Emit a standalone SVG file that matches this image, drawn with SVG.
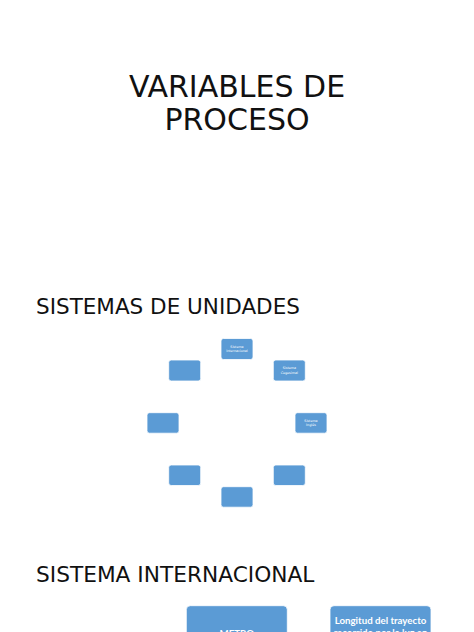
<svg xmlns="http://www.w3.org/2000/svg" width="474" height="632" viewBox="0 0 474 632">
<style>
.h{font-family:"DejaVu Sans",sans-serif;fill:#111}
.b{fill:#5b9bd5;stroke:#fff;stroke-width:0.8}
.t{font-family:"DejaVu Sans",sans-serif;font-size:3.3px;fill:#fff;text-anchor:middle}
.w{font-family:Lato,"Open Sans",sans-serif;font-weight:bold;font-size:9.7px;fill:#fff;text-anchor:middle}
</style>
<rect width="474" height="632" fill="#fff"/>
<text class="h" x="237" y="96.7" font-size="30" text-anchor="middle">VARIABLES DE</text>
<text class="h" x="237" y="130" font-size="30" text-anchor="middle">PROCESO</text>
<text class="h" x="36" y="314" font-size="21.5">SISTEMAS DE UNIDADES</text>
<g id="n1"><rect class="b" x="221" y="338.5" width="32" height="21" rx="2.5"/><text class="t" x="237" y="347.5">Sistema</text><text class="t" x="237" y="352">Internacional</text></g>
<g id="n2"><rect class="b" x="273.3" y="360" width="32" height="21" rx="2.5"/><text class="t" x="289.3" y="369">Sistema</text><text class="t" x="289.3" y="373.5">Cegesimal</text></g>
<g id="n3"><rect class="b" x="295" y="412.7" width="32" height="20.5" rx="2.5"/><text class="t" x="311" y="421.5">Sistema</text><text class="t" x="311" y="426">Inglés</text></g>
<g id="n4"><rect class="b" x="273.3" y="465" width="32" height="20.5" rx="2.5"/></g>
<g id="n5"><rect class="b" x="221" y="486.7" width="32" height="20.5" rx="2.5"/></g>
<g id="n6"><rect class="b" x="168.7" y="465" width="32" height="20.5" rx="2.5"/></g>
<g id="n7"><rect class="b" x="147" y="412.7" width="32" height="20.5" rx="2.5"/></g>
<g id="n8"><rect class="b" x="168.7" y="360" width="32" height="21" rx="2.5"/></g>
<g id="connectors"></g>
<text class="h" x="36" y="582" font-size="21.7">SISTEMA INTERNACIONAL</text>
<g id="m1"><rect class="b" x="186.3" y="605.7" width="101" height="60" rx="4"/><text class="w" x="236.8" y="637">METRO</text></g>
<g id="m2"><rect class="b" x="330" y="605.7" width="101" height="60" rx="4"/><text class="w" x="380.5" y="623.5">Longitud del trayecto</text><text class="w" x="380.5" y="636">recorrido por la luz en</text></g>
</svg>
